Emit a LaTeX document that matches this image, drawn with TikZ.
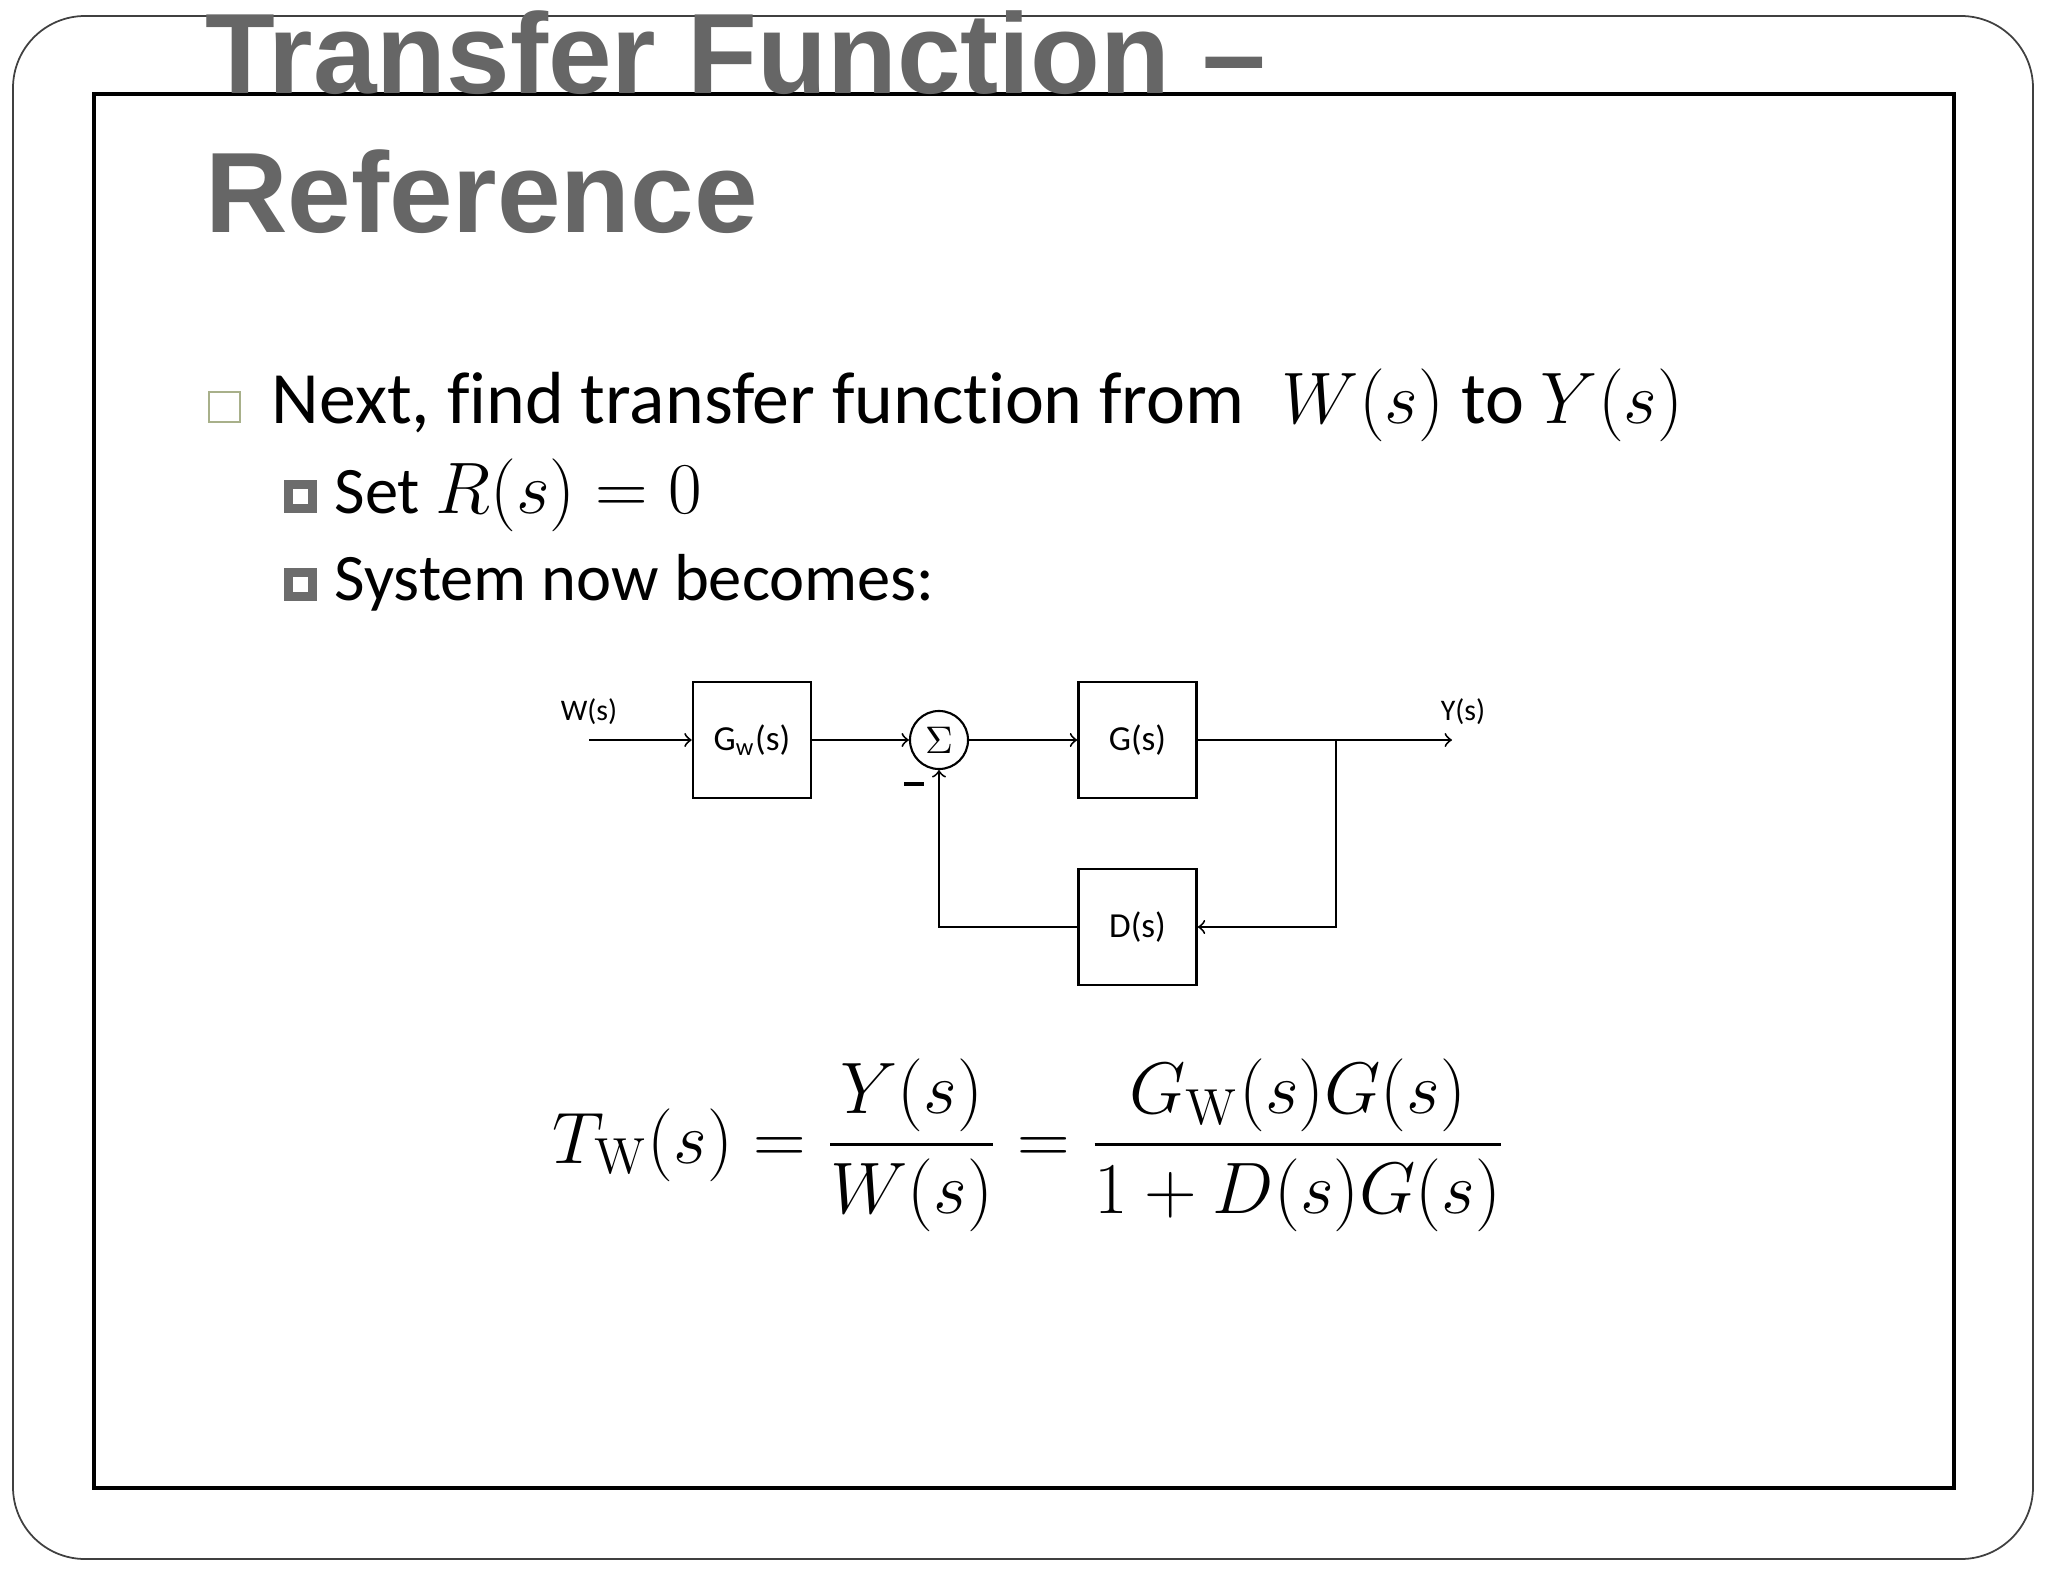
\documentclass[tikz,border=0pt]{standalone}
\usepackage{amsmath}
\usepackage[no-math]{fontspec}
\setmainfont{Carlito}[Ligatures={TeX,NoCommon}]
\newfontfamily\headfont{Liberation Sans}
\usetikzlibrary{arrows,calc}
\definecolor{headgray}{RGB}{102,102,102}
\definecolor{olivebox}{RGB}{168,176,138}
\definecolor{bulgray}{RGB}{108,108,108}
\newcommand\mainbullet[1]{%
\draw[olivebox,line width=0.85pt] (#1) rectangle ++(31,30);
}
\newcommand\subbullet[1]{%
\fill[bulgray] (#1) rectangle ++(33,33);
\fill[white] (#1) ++(9,9) rectangle ++(15,15);
}
\newcommand\bigmath[2]{{\fontsize{#1}{#1}\selectfont$#2$}}
\begin{document}
\begin{tikzpicture}[x=0.01cm,y=-0.01cm,
  blk/.style={draw,line width=0.7pt,minimum width=1.18cm,minimum height=1.16cm,inner sep=0,font=\fontsize{10}{12}\selectfont},
  sumc/.style={draw,circle,line width=0.6pt,minimum size=0.58cm,inner sep=0,font=\fontsize{11}{12}\selectfont},
  lbl/.style={inner sep=0,font=\fontsize{8.5}{10}\selectfont},
  flow/.style={->,line width=0.55pt},
  txt/.style={inner sep=0,anchor=base west}]
	%% frame and page
	\useasboundingbox (0,0) rectangle (2048,1582);
	\def\rr{72} % corner radius
	\draw[black!75,line width=0.5pt,rounded corners=\rr*0.01cm] (13,16) rectangle (2033,1559);
	\draw[line width=1.1pt] (94,94) rectangle (1954,1488);

	% title
	\node[txt,headgray,font=\headfont\bfseries\fontsize{32.5}{39}\selectfont] (head1) at (204.5,94) {Transfer Function –};
	\node[txt,headgray,font=\headfont\bfseries\fontsize{32.5}{39}\selectfont] (head2) at (204.5,233) {Reference};

	% bullets
	\mainbullet{209,392}
	\subbullet{284,480}
	\subbullet{284,568}
	\node[txt,font=\fontsize{21}{25}\selectfont] (line1) at (271,423) {Next, find transfer function from \;\bigmath{21}{W(s)} to \bigmath{21}{Y(s)}};
	\node[txt,font=\fontsize{18.9}{22}\selectfont] (line2) at (334,513) {Set \bigmath{20.5}{R(s)=0}};
	\node[txt,font=\fontsize{18.9}{22}\selectfont] (line3) at (334,600) {System now becomes:};

	% block diagram
	\node[blk] (gw) at (752,740) {G\textsubscript{w}(s)};
	\node[sumc] (sum) at (939,740) {$\Sigma$};
	\node[blk] (g) at (1137.5,740) {G(s)};
	\node[blk] (d) at (1137.5,927) {D(s)};
	\coordinate (win) at (589,740);
	\coordinate (yout) at (1452,740);
	\coordinate (br) at (1336,740);
	\node[lbl] (wlab) at (589,712) {W(s)};
	\node[lbl] (ylab) at (1463,712) {Y(s)};
	\node[inner sep=0] (minus) at (914,784) {\rule{0.2cm}{0.045cm}};
	\draw[flow] (win) -- (gw);
	\draw[flow] (gw) -- (sum);
	\draw[flow] (sum) -- (g);
	\draw[flow] (g) -- (yout);
	\draw[flow] (br) |- (d);
	\draw[flow] (d) -| (sum);

	% closed loop transfer function
	\node[txt,font=\fontsize{22.5}{26}\selectfont] (tf) at (552,1163)
	  {$T_{\mathrm{W}}(s)=\dfrac{Y(s)}{W(s)}=\dfrac{G_{\mathrm{W}}(s)G(s)}{1+D(s)G(s)}$};
\end{tikzpicture}
\end{document}
